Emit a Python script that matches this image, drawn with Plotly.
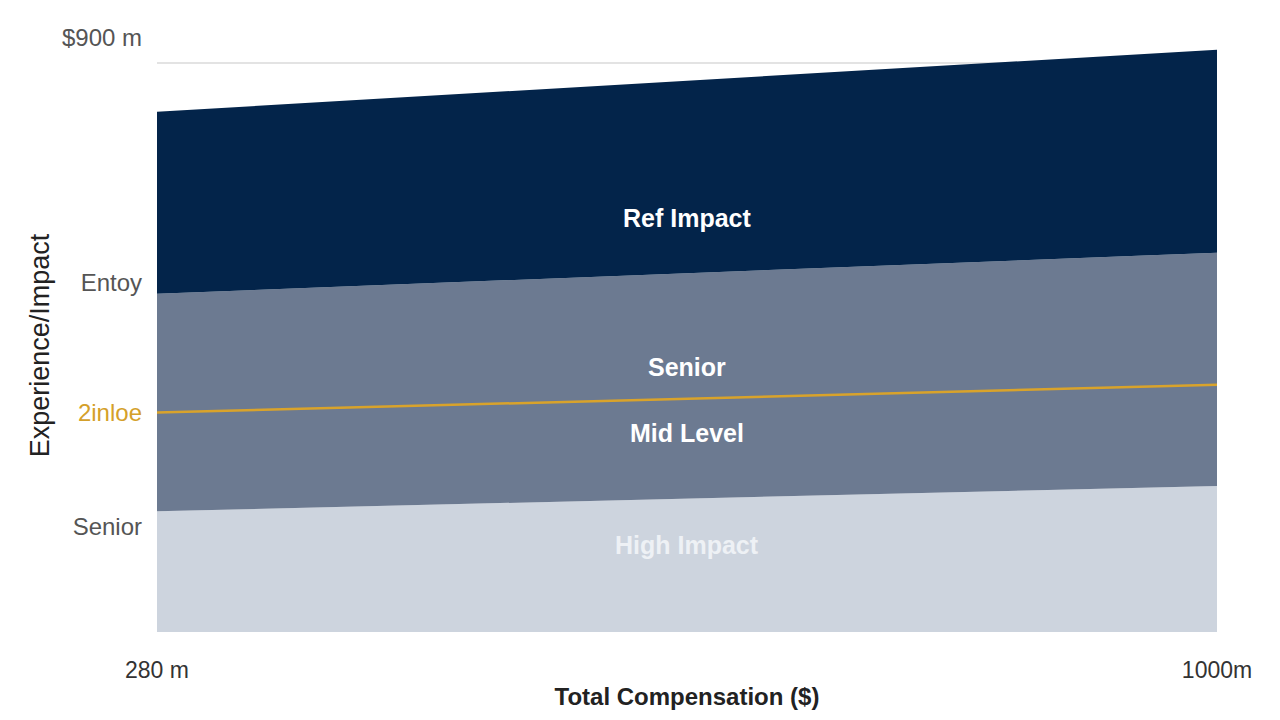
import plotly.graph_objects as go

# compensation range ($m) at the two ends of the chart
comp = [200, 1000]

# upper edge of each band at the left and right end
high_impact_top = [191, 231]
mid_level_top = [535, 600]
ref_impact_top = [823, 921]
gold_line = [347, 391]

grid_value = 900

y_tick_vals = [940, 552, 347, 166]
y_tick_text = ["$900 m", "Entoy", '<span style="color:#D4A02A">2inloe</span>', "Senior"]
x_tick_vals = [200, 1000]
x_tick_text = ["280 m", "1000m"]

band_labels = ["Ref Impact", "Senior", "Mid Level", "High Impact"]
band_label_y = [655, 419, 315, 138]
band_label_colors = ["#FFFFFF", "#FFFFFF", "#FFFFFF", "#EEF1F5"]

fig = go.Figure()
fig.add_trace(go.Scatter(x=comp, y=high_impact_top, mode='lines', line=dict(width=0),
                         fill='tozeroy', fillcolor='#CDD4DE', hoverinfo='skip'))
fig.add_trace(go.Scatter(x=comp, y=mid_level_top, mode='lines', line=dict(width=0),
                         fill='tonexty', fillcolor='#6C7A91', hoverinfo='skip'))
fig.add_trace(go.Scatter(x=comp, y=ref_impact_top, mode='lines', line=dict(width=0),
                         fill='tonexty', fillcolor='#03244A', hoverinfo='skip'))
fig.add_trace(go.Scatter(x=comp, y=gold_line, mode='lines',
                         line=dict(color='#D9A32B', width=2.5), hoverinfo='skip'))

fig.add_shape(type='line', xref='x', yref='y', x0=comp[0], x1=comp[1],
              y0=grid_value, y1=grid_value, line=dict(color='#DADADA', width=1.5),
              layer='below')

for txt, yy, col in zip(band_labels, band_label_y, band_label_colors):
    fig.add_annotation(x=600, y=yy, text=txt, showarrow=False,
                       font=dict(family='Liberation Sans', size=25, color=col, weight='bold'))

# y axis title placed as a rotated annotation (sits a bit below plot centre)
fig.add_annotation(xref='paper', yref='paper', x=-0.110, y=0.46, text='Experience/Impact',
                   textangle=-90, showarrow=False, xanchor='center', yanchor='middle',
                   font=dict(family='Liberation Sans', size=27, color='#222222'))

# page body has an 8px margin, so the figure is sized to fit the window
fig.update_layout(
    width=1272, height=712,
    margin=dict(l=149, r=63, t=0, b=88),
    plot_bgcolor='white', paper_bgcolor='white',
    showlegend=False,
    font=dict(family='Liberation Sans'),
    xaxis=dict(range=comp, showgrid=False, zeroline=False, showline=False,
               tickvals=x_tick_vals, ticktext=x_tick_text, ticks='',
               ticklabelstandoff=22,
               tickfont=dict(size=23, color='#333333'),
               title=dict(text='Total Compensation ($)', standoff=6,
                          font=dict(size=24, color='#222222', weight='bold'))),
    yaxis=dict(range=[0, 987], showgrid=False, zeroline=False, showline=False,
               tickvals=y_tick_vals, ticktext=y_tick_text, ticks='',
               ticklabelstandoff=14,
               tickfont=dict(size=24, color='#555555')),
)

fig.write_html("out.html")
